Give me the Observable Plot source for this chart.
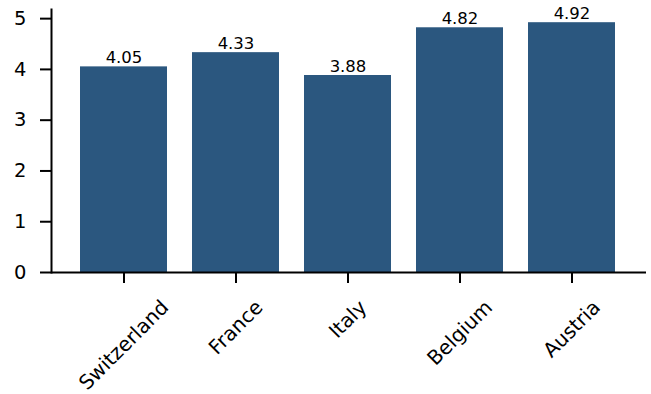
<!DOCTYPE html>
<html><head><meta charset="utf-8">
<script src="https://cdn.jsdelivr.net/npm/d3@7"></script>
<script src="https://cdn.jsdelivr.net/npm/@observablehq/plot@0.6"></script>
<style>body{margin:0;background:#fff}svg{display:block}</style>
</head><body><div id="chart"></div>
<script>
const countries = ["Switzerland", "France", "Italy", "Belgium", "Austria"];
const values = [4.05, 4.33, 3.88, 4.82, 4.92];
const yTicks = [0, 1, 2, 3, 4, 5];

const data = countries.map((c, i) => ({country: c, value: values[i]}));
const FONT = "DejaVu Sans";
const xFont = 20;
const yFont = 19.5;
const valFont = 16.5;
const ctx = document.createElement("canvas").getContext("2d");
ctx.font = `${xFont}px "${FONT}"`;

const labelMarks = countries.map(c => {
  const w = ctx.measureText(c).width - 0.1 * xFont;
  const h = xFont * 0.75;
  const half = (w + h) * Math.SQRT1_2 / 2;
  return Plot.text([c], {x: d => d, frameAnchor: "bottom", dy: 27 + half, rotate: -45,
    textAnchor: "middle", lineAnchor: "middle", fontSize: xFont, fill: "#000"});
});

const chart = Plot.plot({
  width: 651, height: 394,
  marginTop: 9, marginBottom: 122, marginLeft: 51, marginRight: 5,
  style: {fontFamily: FONT, background: "#fff", color: "#000"},
  x: {domain: countries, range: [79, 617], paddingInner: 0.22, paddingOuter: 0},
  y: {domain: [0, 5.18]},
  marks: [
    Plot.barY(data, {x: "country", y: "value", fill: "#2b577f"}),
    Plot.text(data, {x: "country", y: "value", text: d => d.value.toFixed(2), dy: -4, lineAnchor: "bottom", fontSize: valFont, fill: "#000"}),
    Plot.axisY({ticks: yTicks, tickSize: 11, tickPadding: 14, fontSize: yFont, strokeWidth: 2, label: null, tickFormat: d => String(d)}),
    Plot.axisX({tickSize: 11, strokeWidth: 2, label: null, tickFormat: () => ""}),
    Plot.frame({anchor: "left", strokeWidth: 2, stroke: "#000"}),
    Plot.ruleY([0], {strokeWidth: 2, stroke: "#000"}),
    ...labelMarks
  ]
});
document.getElementById("chart").append(chart);
</script></body></html>
